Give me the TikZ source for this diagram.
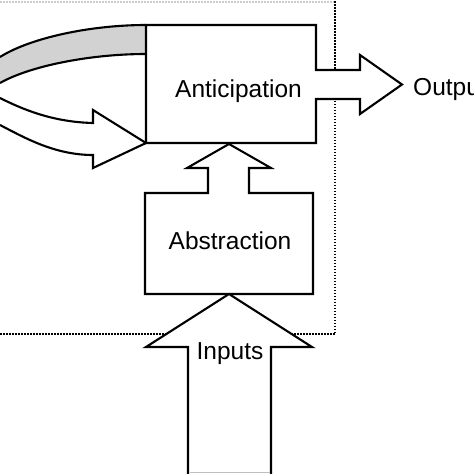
\documentclass[tikz,border=0pt]{standalone}
\usepackage{fontspec}
\setmainfont{Liberation Sans}
\begin{document}
\begin{tikzpicture}[x=1pt,y=-1pt,
  blk/.style={draw=black,line width=2.1pt,line join=miter,fill=white},
  lbl/.style={anchor=base,inner sep=0pt,font=\fontsize{24.5}{28}\selectfont},
  dotline/.style={line width=2pt,dash pattern=on 1.5pt off 1.5pt}]
\useasboundingbox (0,0) rectangle (474,474);
% faint top border of the enclosure
\draw[gray!40,dotline] (0,2) -- (335,2);
% dotted enclosure
\coordinate (dc) at (335,334);
\draw[dotline] (0,334) -- (dc) -- (335,0);
% grey band leaving the anticipation box
\fill[gray!35] (146,25) .. controls (90,25) and (30,38) .. (0,57) -- (0,83) .. controls (30,66) and (90,54) .. (146,54) -- cycle;
\draw[line width=2.1pt] (146,25) .. controls (90,25) and (30,38) .. (0,57);
\draw[line width=2.1pt] (0,83) .. controls (30,66) and (90,54) .. (146,54);
% returning white arrow
\coordinate (ret) at (146,143);
\draw[blk] (0,98) .. controls (22,109) and (52,122) .. (93,123) -- (93,110) -- (ret) -- (93,168) -- (93,155) .. controls (55,155) and (25,138) .. (0,125);
% anticipation box with output arrow
\draw[blk] (146,25) -- (316,25) -- (316,70) -- (360,70) -- (360,55) -- (402,84.5) -- (360,114) -- (360,99) -- (316,99) -- (316,143) -- (146,143) -- cycle;
% abstraction box with upward arrow
\draw[blk] (145,193) -- (208,193) -- (208,168) -- (187,168) -- (229,144) -- (271,168) -- (249,168) -- (249,193) -- (313,193) -- (313,294) -- (145,294) -- cycle;
% inputs arrow
\draw[blk] (188,476) -- (188,347) -- (146,347) -- (229,294) -- (312,347) -- (271,347) -- (271,476);
\draw[gray!50,line width=1.5pt] (189.5,472.5) -- (269.5,472.5);
% labels
\node[lbl] (antic) at (238.5,97) {Anticipation};
\node[lbl] (abstr) at (230,249) {Abstraction};
\node[lbl] (inp) at (230,359) {Inputs};
\node[lbl,anchor=base west] (outp) at (413,95) {Outputs};
\end{tikzpicture}
\end{document}
